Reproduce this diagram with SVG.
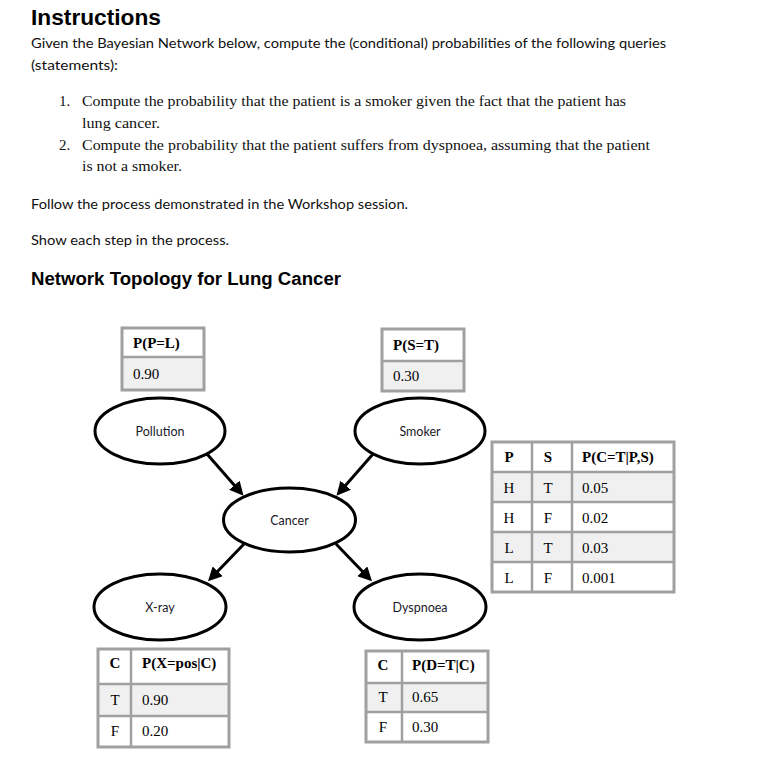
<svg xmlns="http://www.w3.org/2000/svg" width="774" height="772" viewBox="0 0 774 772">
<style>
.h1{font-family:"Liberation Sans",Arial,sans-serif;font-weight:bold;font-size:22px;fill:#000}
.h2{font-family:"Liberation Sans",Arial,sans-serif;font-weight:bold;font-size:18px;fill:#000}
.body{font-family:Lato,"Open Sans",sans-serif;font-size:14px;fill:#111}
.item{font-family:"Liberation Serif","Times New Roman",serif;font-size:15px;fill:#111}
.lbl{font-family:Lato,"Open Sans",sans-serif;font-size:12.5px;fill:#1a1a2a;text-anchor:middle}
.node{fill:#fff;stroke:#000;stroke-width:3}
.edge{stroke:#000;stroke-width:3;fill:none;marker-end:url(#ah)}
.tb{fill:none;stroke:#a0a0a0;stroke-width:3}
.ln{stroke:#a0a0a0;stroke-width:2.5}
.grey{fill:#f0f0f0}
.th{font-family:"Liberation Serif","Times New Roman",serif;font-weight:bold;font-size:15px;fill:#000}
.td{font-family:"Liberation Serif","Times New Roman",serif;font-size:15px;fill:#000}
.c{text-anchor:middle}
</style>
<defs>
<marker id="ah" viewBox="0 0 14 14" markerUnits="userSpaceOnUse" markerWidth="14" markerHeight="14" refX="1" refY="7" orient="auto">
<path d="M0,0 L14,7 L0,14 z" fill="#000"/>
</marker>
</defs>
<rect width="774" height="772" fill="#fff"/>

<g id="text">
<text class="h1" x="31" y="25" textLength="130" lengthAdjust="spacingAndGlyphs">Instructions</text>
<text class="body" x="31" y="48" textLength="635" lengthAdjust="spacingAndGlyphs">Given the Bayesian Network below, compute the (conditional) probabilities of the following queries</text>
<text class="body" x="31" y="70" textLength="87" lengthAdjust="spacingAndGlyphs">(statements):</text>
<text class="item" x="59" y="106">1.</text>
<text class="item" x="82" y="106" textLength="544" lengthAdjust="spacingAndGlyphs">Compute the probability that the patient is a smoker given the fact that the patient has</text>
<text class="item" x="82" y="128" textLength="78" lengthAdjust="spacingAndGlyphs">lung cancer.</text>
<text class="item" x="59" y="150">2.</text>
<text class="item" x="82" y="150" textLength="568" lengthAdjust="spacingAndGlyphs">Compute the probability that the patient suffers from dyspnoea, assuming that the patient</text>
<text class="item" x="82" y="171" textLength="100" lengthAdjust="spacingAndGlyphs">is not a smoker.</text>
<text class="body" x="31" y="209" textLength="377" lengthAdjust="spacingAndGlyphs">Follow the process demonstrated in the Workshop session.</text>
<text class="body" x="31" y="245" textLength="198" lengthAdjust="spacingAndGlyphs">Show each step in the process.</text>
<text class="h2" x="31" y="285" textLength="310" lengthAdjust="spacingAndGlyphs">Network Topology for Lung Cancer</text>
</g>

<g id="connectors">
<line class="edge" x1="207" y1="454" x2="235" y2="486"/>
<line class="edge" x1="373" y1="454" x2="345" y2="486"/>
<line class="edge" x1="244" y1="544" x2="217" y2="572"/>
<line class="edge" x1="336" y1="544" x2="363" y2="572"/>
</g>

<g id="pollution">
<ellipse class="node" cx="160" cy="431" rx="65" ry="33"/>
<text class="lbl" x="160" y="436">Pollution</text>
</g>
<g id="smoker">
<ellipse class="node" cx="420" cy="431" rx="65" ry="33"/>
<text class="lbl" x="420" y="436">Smoker</text>
</g>
<g id="cancer">
<ellipse class="node" cx="289.5" cy="520" rx="66" ry="32"/>
<text class="lbl" x="289.5" y="525">Cancer</text>
</g>
<g id="xray">
<ellipse class="node" cx="160" cy="607" rx="66" ry="33"/>
<text class="lbl" x="160" y="612">X-ray</text>
</g>
<g id="dyspnoea">
<ellipse class="node" cx="420" cy="607" rx="66" ry="33"/>
<text class="lbl" x="420" y="612">Dyspnoea</text>
</g>

<g id="cpt-pollution">
<rect class="grey" x="122" y="357" width="82" height="33"/>
<line class="ln" x1="122" y1="357" x2="204" y2="357"/>
<rect class="tb" x="122" y="328" width="82" height="62"/>
<text class="th" x="133" y="348">P(P=L)</text>
<text class="td" x="133" y="379">0.90</text>
</g>

<g id="cpt-smoker">
<rect class="grey" x="382" y="361" width="82" height="30"/>
<line class="ln" x1="382" y1="361" x2="464" y2="361"/>
<rect class="tb" x="382" y="329" width="82" height="62"/>
<text class="th" x="393" y="350">P(S=T)</text>
<text class="td" x="393" y="381">0.30</text>
</g>

<g id="cpt-cancer">
<rect class="grey" x="492" y="472" width="182" height="30"/>
<rect class="grey" x="492" y="532" width="182" height="30"/>
<line class="ln" x1="492" y1="472" x2="674" y2="472"/>
<line class="ln" x1="492" y1="502" x2="674" y2="502"/>
<line class="ln" x1="492" y1="532" x2="674" y2="532"/>
<line class="ln" x1="492" y1="562" x2="674" y2="562"/>
<line class="ln" x1="532" y1="442" x2="532" y2="592"/>
<line class="ln" x1="572" y1="442" x2="572" y2="592"/>
<rect class="tb" x="492" y="442" width="182" height="150"/>
<text class="th c" x="509" y="462">P</text>
<text class="th c" x="548" y="462">S</text>
<text class="th" x="582" y="462">P(C=T|P,S)</text>
<text class="td c" x="509" y="493">H</text>
<text class="td c" x="548" y="493">T</text>
<text class="td" x="582" y="493">0.05</text>
<text class="td c" x="509" y="523">H</text>
<text class="td c" x="548" y="523">F</text>
<text class="td" x="582" y="523">0.02</text>
<text class="td c" x="509" y="553">L</text>
<text class="td c" x="548" y="553">T</text>
<text class="td" x="582" y="553">0.03</text>
<text class="td c" x="509" y="583">L</text>
<text class="td c" x="548" y="583">F</text>
<text class="td" x="582" y="583">0.001</text>
</g>

<g id="cpt-xray">
<rect class="grey" x="98" y="684" width="131" height="32"/>
<line class="ln" x1="98" y1="684" x2="229" y2="684"/>
<line class="ln" x1="98" y1="716" x2="229" y2="716"/>
<line class="ln" x1="131" y1="649" x2="131" y2="747"/>
<rect class="tb" x="98" y="649" width="131" height="98"/>
<text class="th c" x="115" y="668">C</text>
<text class="th" x="142" y="668">P(X=pos|C)</text>
<text class="td c" x="115" y="705">T</text>
<text class="td" x="142" y="705">0.90</text>
<text class="td c" x="115" y="736">F</text>
<text class="td" x="142" y="736">0.20</text>
</g>

<g id="cpt-dyspnoea">
<rect class="grey" x="366" y="683" width="122" height="29"/>
<line class="ln" x1="366" y1="683" x2="488" y2="683"/>
<line class="ln" x1="366" y1="712" x2="488" y2="712"/>
<line class="ln" x1="402" y1="651" x2="402" y2="742"/>
<rect class="tb" x="366" y="651" width="122" height="91"/>
<text class="th c" x="383" y="670">C</text>
<text class="th" x="412" y="670">P(D=T|C)</text>
<text class="td c" x="383" y="702">T</text>
<text class="td" x="412" y="702">0.65</text>
<text class="td c" x="383" y="732">F</text>
<text class="td" x="412" y="732">0.30</text>
</g>
</svg>
